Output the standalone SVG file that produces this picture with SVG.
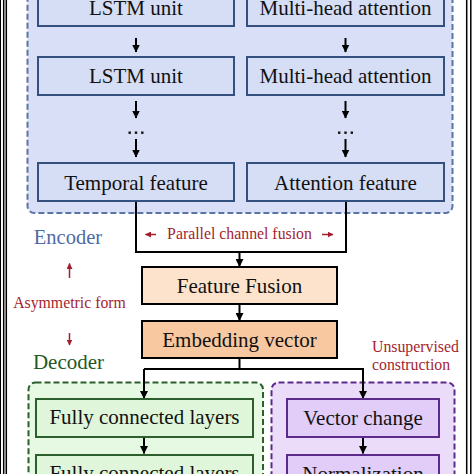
<svg xmlns="http://www.w3.org/2000/svg" width="474" height="474" viewBox="0 0 474 474">
<style>
text{font-family:"Liberation Serif","Times New Roman",serif;text-anchor:middle}
.t{font-size:21px;fill:#111}
.r{font-size:15.8px;fill:#a31f2f}
.blue{fill:#d6def6;stroke:#34507f;stroke-width:2}
.green{fill:#dff6da;stroke:#2d5e2d;stroke-width:2}
.purple{fill:#e2cdf8;stroke:#5b2a8c;stroke-width:2}
.c{fill:none;stroke:#000;stroke-width:2}
.ca{fill:none;stroke:#000;stroke-width:2;marker-end:url(#ah)}
.ra{fill:none;stroke:#a31f2f;stroke-width:1.5;marker-end:url(#rh)}
</style>
<defs>
<marker id="ah" markerWidth="8" markerHeight="8" viewBox="0 0 8 8" refX="7.5" refY="4" orient="auto" markerUnits="userSpaceOnUse">
<path d="M0,0 L8,4 L0,8 Z" fill="#000"/>
</marker>
<marker id="rh" markerWidth="6" markerHeight="6" viewBox="0 0 6 6" refX="5.5" refY="3" orient="auto" markerUnits="userSpaceOnUse">
<path d="M0,0 L6,3 L0,6 Z" fill="#a31f2f"/>
</marker>
</defs>
<rect width="474" height="474" fill="#fff"/>
<!-- frame -->
<g stroke="#000">
<line x1="0.5" y1="0" x2="0.5" y2="474" stroke-width="1"/>
<line x1="3.7" y1="0" x2="3.7" y2="474" stroke-width="1.5"/>
<line x1="6.3" y1="0" x2="6.3" y2="474" stroke-width="1.5"/>
<line x1="466.7" y1="0" x2="466.7" y2="474" stroke-width="1.5"/>
<line x1="470.8" y1="0" x2="470.8" y2="474" stroke-width="1.5"/>
</g>
<!-- containers -->
<g id="encoder-group">
<rect x="27.5" y="-20" width="425" height="233" rx="7" fill="#d8dff6" stroke="#5a74a6" stroke-width="2" stroke-dasharray="6,3"/>
</g>
<g id="decoder-group">
<rect x="28.5" y="382.5" width="234.5" height="120" rx="7" fill="#e6f9e3" stroke="#2d5e2d" stroke-width="2" stroke-dasharray="6,3"/>
</g>
<g id="unsupervised-group">
<rect x="271.5" y="382.5" width="183" height="120" rx="7" fill="#ebdcfa" stroke="#5b2a8c" stroke-width="2" stroke-dasharray="6,3"/>
</g>
<!-- connectors -->
<g id="connectors">
<line class="ca" x1="136" y1="38" x2="136" y2="52"/>
<line class="ca" x1="136" y1="101" x2="136" y2="118"/>
<line class="ca" x1="136" y1="139" x2="136" y2="157"/>
<line class="ca" x1="345.5" y1="38" x2="345.5" y2="52"/>
<line class="ca" x1="345.5" y1="101" x2="345.5" y2="118"/>
<line class="ca" x1="345.5" y1="139" x2="345.5" y2="157"/>
<polyline class="c" points="136,201 136,252 346,252 346,201"/>
<line class="ca" x1="239.5" y1="252" x2="239.5" y2="266.5"/>
<line class="ca" x1="239.5" y1="304" x2="239.5" y2="320.5"/>
<polyline class="c" points="239.5,358 239.5,369"/>
<polyline class="ca" points="144,369 144,398.5"/>
<polyline class="ca" points="144,369 363,369 363,398.5"/>
<line class="ca" x1="144" y1="437" x2="144" y2="453.5"/>
<line class="ca" x1="363" y1="437" x2="363" y2="453.5"/>
</g>
<!-- dots -->
<g fill="#111">
<rect x="128.5" y="131.5" width="2.4" height="2.4"/><rect x="134.8" y="131.5" width="2.4" height="2.4"/><rect x="141.1" y="131.5" width="2.4" height="2.4"/>
<rect x="338" y="131.5" width="2.4" height="2.4"/><rect x="344.3" y="131.5" width="2.4" height="2.4"/><rect x="350.6" y="131.5" width="2.4" height="2.4"/>
</g>
<!-- encoder nodes -->
<g id="lstm1"><rect class="blue" x="38" y="-14" width="196" height="40"/><text class="t" x="136" y="15">LSTM unit</text></g>
<g id="lstm2"><rect class="blue" x="38" y="57" width="196" height="38"/><text class="t" x="136" y="83">LSTM unit</text></g>
<g id="temporal"><rect class="blue" x="38" y="163" width="196" height="38"/><text class="t" x="136" y="190">Temporal feature</text></g>
<g id="mha1"><rect class="blue" x="247" y="-14" width="197" height="40"/><text class="t" x="345.5" y="15">Multi-head attention</text></g>
<g id="mha2"><rect class="blue" x="247" y="57" width="197" height="38"/><text class="t" x="345.5" y="83">Multi-head attention</text></g>
<g id="attention"><rect class="blue" x="247" y="163" width="197" height="38"/><text class="t" x="345.5" y="190">Attention feature</text></g>
<!-- fusion -->
<g id="fusion"><rect x="142" y="267" width="195" height="37" fill="#fde3cc" stroke="#000" stroke-width="2"/><text class="t" x="239.5" y="293">Feature Fusion</text></g>
<g id="embedding"><rect x="142" y="321" width="195" height="37" fill="#f8c9a0" stroke="#000" stroke-width="2"/><text class="t" x="239.5" y="347">Embedding vector</text></g>
<!-- decoder nodes -->
<g id="fc1"><rect class="green" x="36" y="399" width="217" height="38"/><text class="t" x="144.5" y="424">Fully connected layers</text></g>
<g id="fc2"><rect class="green" x="36" y="455" width="217" height="40"/><text class="t" x="144.5" y="480">Fully connected layers</text></g>
<g id="vector-change"><rect class="purple" x="287" y="399" width="152" height="38"/><text class="t" x="363" y="425">Vector change</text></g>
<g id="normalization"><rect class="purple" x="287" y="455" width="152" height="40"/><text class="t" x="363" y="481">Normalization</text></g>
<!-- labels -->
<g id="labels">
<text x="68" y="244" style="font-size:20.5px;fill:#4f6aa6">Encoder</text>
<text x="68.5" y="369" style="font-size:21px;fill:#1f5a1f">Decoder</text>
<text class="r" x="69.5" y="308">Asymmetric form</text>
<line class="ra" x1="69.5" y1="278" x2="69.5" y2="263.5"/>
<line class="ra" x1="69.5" y1="333" x2="69.5" y2="345"/>
<text class="r" x="239.5" y="239">Parallel channel fusion</text>
<line class="ra" x1="156" y1="234.5" x2="145.5" y2="234.5"/>
<line class="ra" x1="322" y1="234.5" x2="333" y2="234.5"/>
<text class="r" x="372" y="352" style="text-anchor:start">Unsupervised</text>
<text class="r" x="372" y="370" style="text-anchor:start">construction</text>
</g>
</svg>
